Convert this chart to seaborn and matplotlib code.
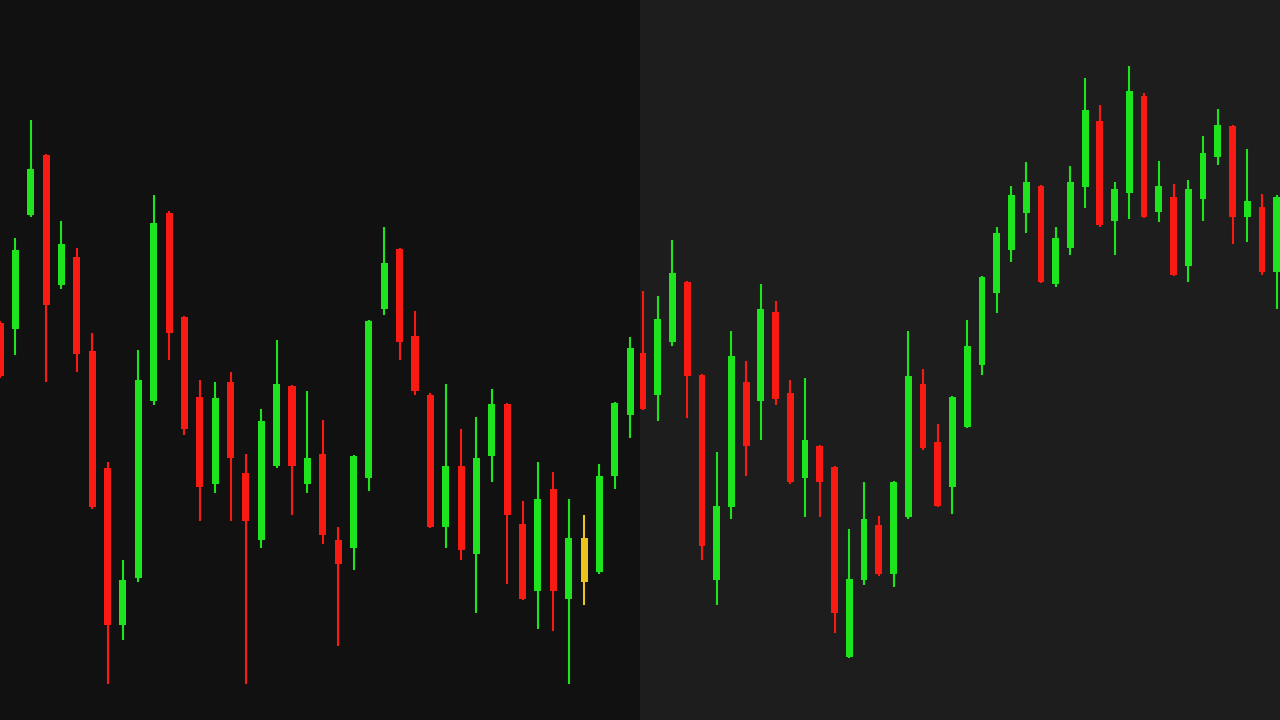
import numpy as np
import pandas as pd
import seaborn as sns
import matplotlib
matplotlib.use('Agg')
import matplotlib.pyplot as plt

# OHLC values, one candle per entry
opens = [139.7, 139.1, 150.5, 156.5, 143.5, 146.3, 136.9, 125.2, 109.5, 114.2,
         131.9, 150.7, 140.3, 132.3, 123.6, 133.8, 124.7, 118.0, 125.4, 133.4,
         123.6, 126.6, 118.0, 117.2, 124.2, 141.1, 147.1, 138.4, 132.5, 119.3,
         125.4, 116.6, 126.4, 131.6, 119.6, 112.9, 123.1, 112.1, 118.2, 114.8,
         124.4, 130.5, 136.7, 132.5, 137.8, 143.8, 134.5, 114.0, 121.3, 133.8,
         131.9, 140.8, 132.7, 124.2, 127.4, 125.3, 106.3, 114.0, 119.5, 114.6,
         120.3, 133.6, 127.8, 123.3, 129.3, 135.5, 142.7, 147.0, 150.7, 153.4,
         143.6, 147.2, 153.3, 159.9, 149.9, 152.7, 162.4, 150.8, 152.3, 145.4,
         152.1, 156.3, 159.4, 150.3, 151.3, 144.8]
highs = [139.9, 148.2, 160.0, 156.6, 149.9, 147.2, 138.7, 125.8, 116.0, 137.0,
         152.5, 150.9, 140.4, 134.0, 133.8, 134.8, 126.6, 131.1, 138.0, 133.5,
         132.9, 130.0, 119.3, 126.5, 140.0, 149.3, 147.2, 140.9, 132.7, 133.6,
         129.1, 130.3, 133.1, 131.7, 121.9, 125.8, 124.8, 122.1, 120.5, 125.6,
         131.8, 138.3, 142.9, 142.4, 148.0, 143.9, 134.6, 126.8, 138.9, 135.9,
         143.6, 141.9, 134.0, 134.2, 127.5, 125.4, 119.1, 123.8, 120.4, 123.9,
         138.9, 135.1, 129.6, 132.4, 140.0, 144.4, 149.3, 153.4, 155.8, 153.5,
         149.3, 155.4, 164.2, 161.5, 153.8, 165.4, 162.7, 155.9, 153.6, 154.0,
         158.4, 161.1, 159.5, 157.1, 152.6, 152.5]
lows = [134.2, 136.5, 150.3, 133.8, 143.1, 134.8, 121.1, 103.6, 108.0, 113.8,
        131.5, 136.0, 128.5, 119.9, 122.7, 119.9, 103.6, 117.2, 125.2, 120.5,
        122.7, 117.6, 107.4, 115.0, 122.9, 140.5, 136.0, 132.5, 119.2, 117.2,
        116.0, 110.7, 123.8, 113.6, 112.0, 109.1, 108.9, 103.6, 111.5, 114.6,
        123.1, 128.2, 131.0, 129.9, 137.4, 130.2, 116.0, 111.5, 120.1, 124.4,
        128.0, 131.5, 123.6, 120.3, 120.3, 108.7, 106.2, 113.5, 114.4, 113.3,
        120.1, 127.0, 121.3, 120.6, 129.2, 134.5, 140.7, 145.8, 148.7, 143.7,
        143.3, 146.5, 151.2, 149.3, 146.5, 150.1, 150.2, 149.8, 144.4, 143.8,
        149.9, 155.5, 147.6, 147.8, 144.5, 141.1]
closes = [134.4, 147.0, 155.1, 141.5, 147.6, 136.6, 121.3, 109.5, 114.0, 134.0,
          149.7, 138.7, 129.1, 123.3, 132.2, 126.2, 119.9, 129.9, 133.6, 125.4,
          126.2, 118.5, 115.6, 126.4, 139.9, 145.7, 137.8, 132.9, 119.3, 125.4,
          117.0, 126.2, 131.6, 120.5, 112.1, 122.1, 112.9, 118.2, 113.8, 124.4,
          131.7, 137.2, 131.1, 140.1, 144.7, 134.4, 117.4, 121.4, 136.4, 127.4,
          141.1, 132.1, 123.8, 128.0, 123.8, 110.7, 114.1, 120.1, 114.6, 123.8,
          134.4, 127.2, 121.4, 132.3, 137.4, 144.3, 148.7, 152.5, 153.8, 143.8,
          148.2, 153.8, 161.0, 149.5, 153.1, 162.9, 150.3, 153.4, 144.5, 153.1,
          156.7, 159.5, 150.3, 151.9, 144.8, 152.3]
# one highlighted candle in the reference
highlight = [38]
# the picture is two panels: candles 0-41 on the dark left, 42-85 on the right
split = 42

UP = '#1ee41e'
DOWN = '#fa1a14'
MARK = '#e8c41c'


def build_frame():
    df = pd.DataFrame({'open': opens, 'high': highs, 'low': lows, 'close': closes})
    df['idx'] = np.arange(len(df))
    df['color'] = np.where(df['close'] >= df['open'], UP, DOWN)
    df.loc[highlight, 'color'] = MARK
    df['bottom'] = df[['open', 'close']].min(axis=1)
    df['height'] = (df['open'] - df['close']).abs()
    return df


def draw_candles(ax, df, bg, xlim):
    ax.set_facecolor(bg)
    ax.vlines(df['idx'], df['low'], df['high'], colors=df['color'], linewidth=1.5, zorder=2)
    ax.bar(df['idx'], df['height'], bottom=df['bottom'], width=0.46,
           color=df['color'], linewidth=0, zorder=3)
    ax.set_xlim(*xlim)
    ax.set_ylim(100, 172)
    ax.axis('on')
    ax.set_xticks([])
    ax.set_yticks([])
    for s in ax.spines.values():
        s.set_visible(False)


def main():
    sns.set_theme(style='dark', rc={'axes.facecolor': '#111111',
                                    'figure.facecolor': '#111111'})
    df = build_frame()

    fig = plt.figure(figsize=(12.8, 7.2), dpi=100)
    ax_l = fig.add_axes([0, 0, 0.5, 1])
    ax_r = fig.add_axes([0.5, 0, 0.5, 1])

    draw_candles(ax_l, df.iloc[:split], '#111111', (0, 41.64))
    draw_candles(ax_r, df.iloc[split:], '#1d1d1d', (41.80, 85.22))

    fig.savefig('out.png', dpi=100, facecolor=fig.get_facecolor())


if __name__ == '__main__':
    main()
